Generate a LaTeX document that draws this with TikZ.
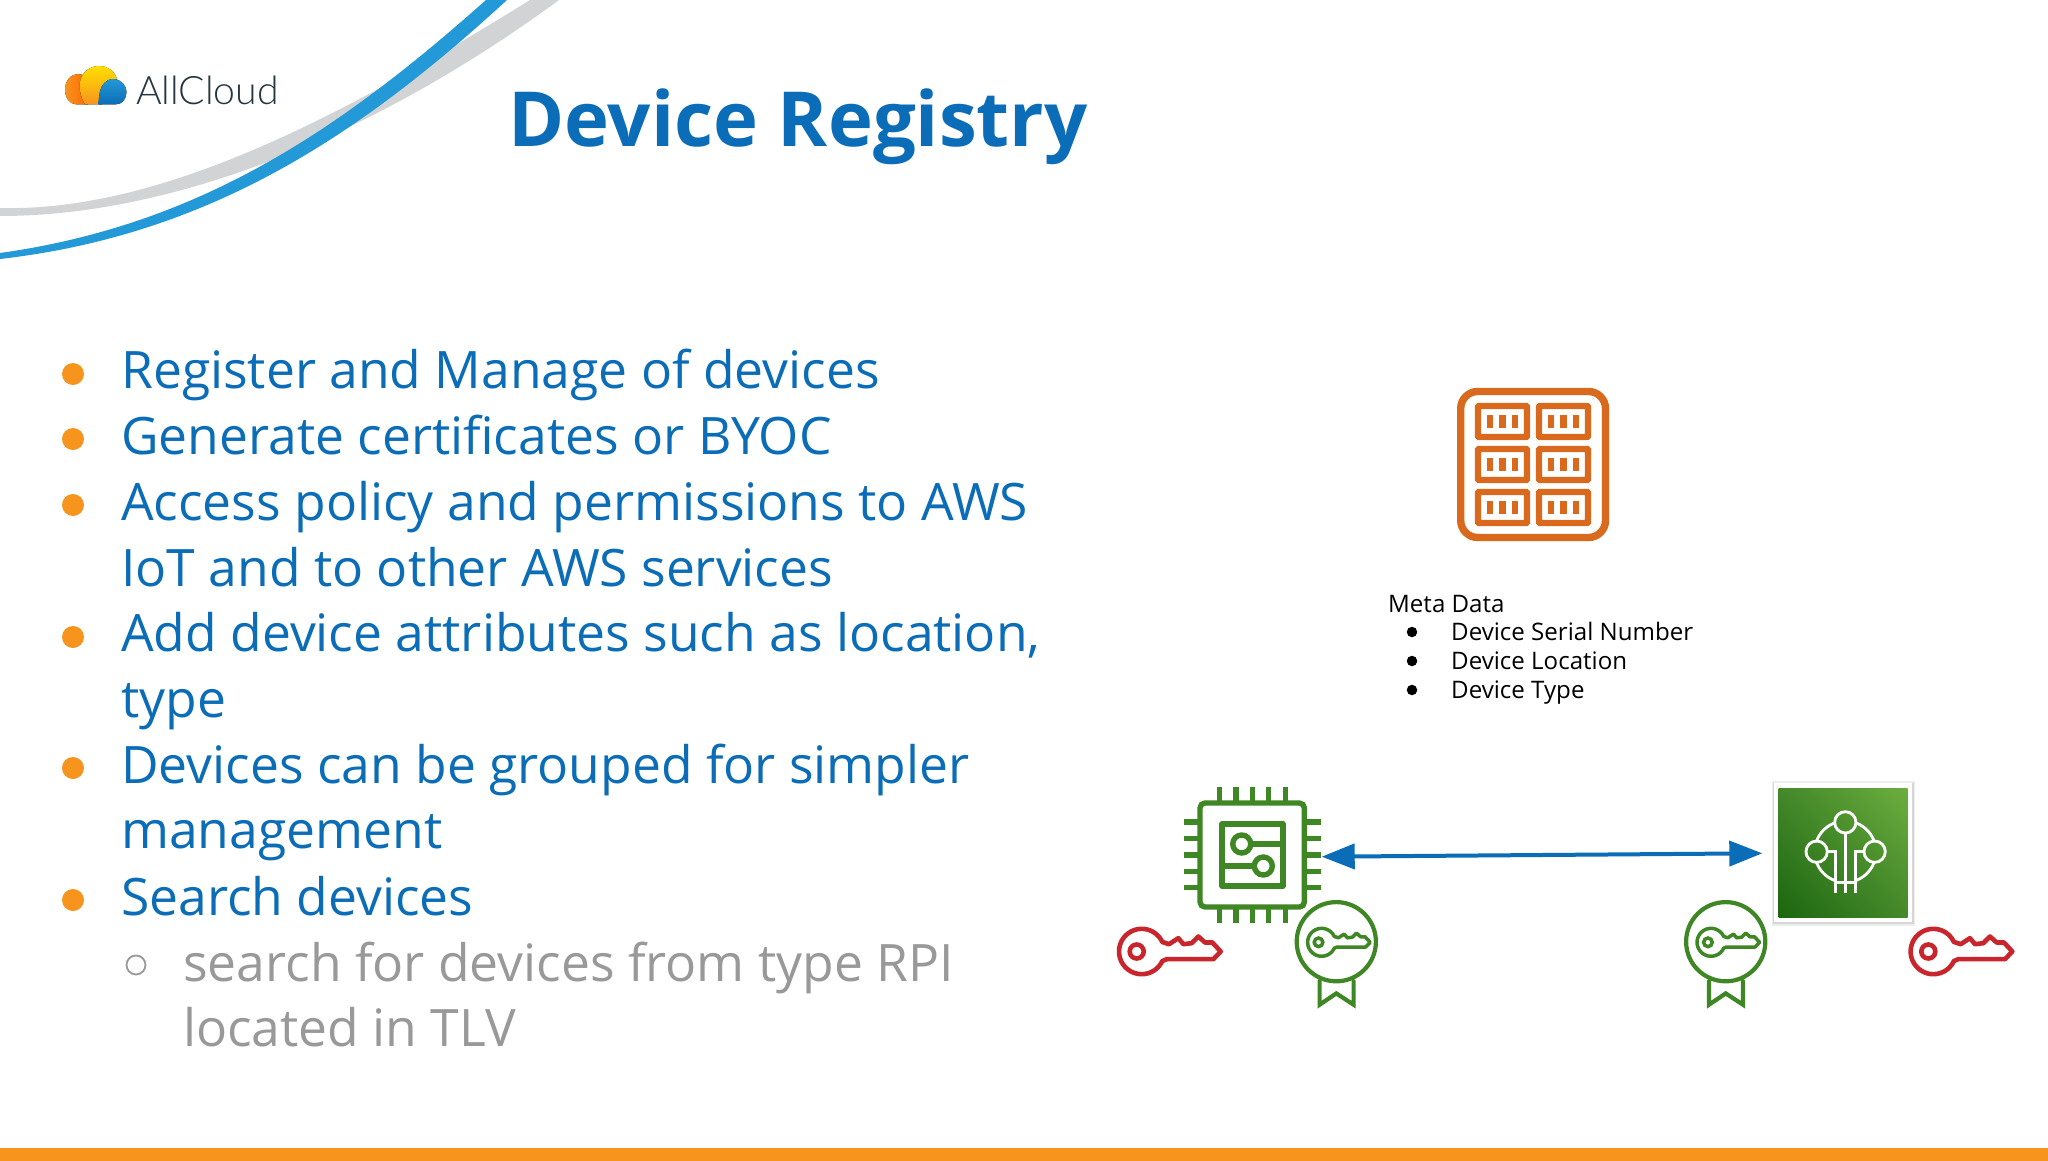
\documentclass[tikz,border=0pt]{standalone}
\usepackage{fontspec}
\setmainfont{Open Sans}
\newfontfamily\logofont{Lato Light}
\usetikzlibrary{arrows.meta,calc,shadings}
\definecolor{txtblue}{HTML}{0B6DB7}
\definecolor{txtgray}{HTML}{999999}
\definecolor{bulorange}{HTML}{F7941E}
\definecolor{ribblue}{HTML}{2499D8}
\definecolor{ribgray}{HTML}{D2D3D4}
\definecolor{iconorange}{HTML}{D9691C}
\definecolor{icongreen}{HTML}{3F8624}
\definecolor{keyred}{HTML}{C9252D}
\definecolor{logodark}{HTML}{26363E}
\definecolor{thingUR}{HTML}{6CAE3E}
\definecolor{thingLL}{HTML}{1B660F}
\definecolor{thingMid}{HTML}{44882A}
\tikzset{
  x=1pt,y=-1pt,
  bullet/.style={circle,fill=bulorange,draw=none,minimum size=22pt,inner sep=0pt},
  mainline/.style={anchor=base west,inner sep=0pt,text=txtblue,font=\fontsize{51.6}{60}\selectfont},
  subline/.style={anchor=base west,inner sep=0pt,text=txtgray,font=\fontsize{51.6}{60}\selectfont},
  metaline/.style={anchor=base west,inner sep=0pt,text=black,font=\fontsize{24.1}{29}\selectfont},
  metadot/.style={circle,fill=black,draw=none,minimum size=10.5pt,inner sep=0pt},
  chipline/.style={draw=icongreen,line width=5.4pt},
  thingline/.style={draw=white,line width=2.8pt},
  keyicon/.pic={
    \draw[line join=round]
      plot[domain=25:335,samples=50] ({68*cos(\x)},{68*sin(\x)*(-1)})
      -- (75,23) -- (215,23) -- (237,0) -- (212,-27) -- (190,-27) -- (170,-45) -- (150,-25) -- (125,-22) -- (110,-40) -- (82,-22) -- cycle;
    \draw (-15,0) circle[radius=21];
  },
  badgeicon/.pic={
    \draw[icongreen,line width=4.2pt] (0,0) circle[radius=39.6];
    \draw[icongreen,line width=4.2pt,line join=miter,line cap=round] (-16.7,39.5) -- (-16.7,63) -- (0,51.7) -- (17.3,63) -- (17.3,39.5);
    \pic[icongreen,line width=3.5pt,scale=0.205] at (-14.7,0.6) {keyicon};
  }
}
\newcommand{\orangecell}[2]{%
  \draw[iconorange,line width=6.4pt,rounded corners=1pt] (#1+3,#2+3) rectangle (#1+52,#2+34);
  \fill[iconorange] (#1+11.7,#2+12.3) rectangle +(6.4,12.7);
  \fill[iconorange] (#1+24.3,#2+12.3) rectangle +(6.4,12.7);
  \fill[iconorange] (#1+36.7,#2+12.3) rectangle +(6.4,12.7);
}
\begin{document}
\begin{tikzpicture}
\useasboundingbox (0,0) rectangle (2048,1161);
\fill[white] (0,0) rectangle (2048,1161);
% ribbons
\fill[ribgray] (0,208) .. controls (160,212) and (340,118) .. (530,0) -- (559,0) .. controls (375,135) and (175,216) .. (0,216) -- cycle;
\fill[ribblue] (0,253) .. controls (200,225) and (340,130) .. (486,0) -- (507,0) .. controls (360,135) and (210,235) .. (0,259) -- cycle;
% logo
\fill[left color=bulorange,right color=orange!80!red] (88,104.3) -- (76,104.3) .. controls (69,104.3) and (65,97) .. (65,89) .. controls (65,81) and (71,74) .. (78,74) .. controls (84,74) and (88,78) .. (90,84) -- cycle;
\fill[top color=yellow!75!orange,bottom color=bulorange] (85,104.3) .. controls (81,98) and (79,90) .. (80,82) .. controls (82,72) and (90,66) .. (99,66) .. controls (107,66) and (114,70) .. (117,79) -- (102,104.3) -- cycle;
\fill[top color=ribblue,bottom color=txtblue] (98.5,104.3) .. controls (99,98) and (99,92) .. (102,86) .. controls (105,81) and (110,78.5) .. (114,79) .. controls (122,80) and (126.5,86) .. (126.5,92) .. controls (126.5,99) and (122,104.3) .. (116,104.3) -- cycle;
\node[anchor=base west,inner sep=0pt,text=logodark,font=\logofont\fontsize{39.2}{46}\selectfont] (logo) at (136,105) {AllCloud};
% title
\node[anchor=base west,inner sep=0pt,text=txtblue,font=\bfseries\fontsize{76}{84}\selectfont] (title) at (508,147) {Device Registry};
% bullet text
\foreach \n/\y/\t in {a/388/{Register and Manage of devices},b/454/{Generate certificates or BYOC},c/520/{Access policy and permissions to AWS},d/586/{IoT and to other AWS services},e/651/{Add device attributes such as location,},f/717/{type},g/783/{Devices can be grouped for simpler},h/848/{management},i/915/{Search devices}}
  \node[mainline] (l\n) at (121,\y) {\t};
\node[subline] (lj) at (183,981) {search for devices from type RPI};
\node[subline] (lk) at (183,1046) {located in TLV};
\foreach \n/\y in {a/374,b/439,c/505,d/637,e/768,f/900}
  \node[bullet] (b\n) at (73,\y) {};
\node[circle,draw=txtgray,line width=1.8pt,minimum size=19pt,inner sep=0pt] (bsub) at (136,965) {};
% bottom bar
\fill[bulorange] (0,1148) rectangle (2048,1161);
% orange icon
\draw[iconorange,line width=7.4pt,rounded corners=17pt] (1460.7,391.5) rectangle (1605.5,537.5);
\foreach \cx in {1475,1536} \foreach \cy in {403,446,489} { \orangecell{\cx}{\cy} }
% meta data
\node[metaline] (m0) at (1388,612) {Meta Data};
\node[metaline] (m1) at (1451,640) {Device Serial Number};
\node[metaline] (m2) at (1451,669) {Device Location};
\node[metaline] (m3) at (1451,698) {Device Type};
\foreach \n/\y in {1/632,2/661,3/690}
  \node[metadot] (d\n) at (1412,\y) {};
% chip
\node[minimum width=136.7pt,minimum height=136.3pt,inner sep=0pt] (chip) at (1252.3,854.8) {};
\draw[chipline,rounded corners=5pt] (1200,803) rectangle (1304.4,907);
\foreach \p in {1219.3,1236,1252.3,1268.7,1285.3} {
  \draw[chipline] (\p,786.7) -- (\p,801);
  \draw[chipline] (\p,909) -- (\p,923);
}
\foreach \p in {822,838.7,855,871.3,887.7} {
  \draw[chipline] (1184,\p) -- (1198,\p);
  \draw[chipline] (1307,\p) -- (1320.7,\p);
}
\draw[chipline,line join=round] (1222,824) rectangle (1283,886);
\draw[chipline] (1241.7,844) circle[radius=9];
\draw[chipline] (1263.3,866) circle[radius=9];
\draw[chipline] (1250.7,844) -- (1283,844);
\draw[chipline] (1222,866) -- (1254.3,866);
% badges and keys
\pic[keyred,line width=4.6pt,scale=1/3] (key1) at (1141.7,951.5) {keyicon};
\pic[keyred,line width=4.6pt,scale=1/3] (key2) at (1933.3,951.5) {keyicon};
\pic (badge1) at (1336.3,941.7) {badgeicon};
\pic (badge2) at (1725.7,941.7) {badgeicon};
% thing
\fill[black!7] (1771.5,781) rectangle (1915,925.5);
\fill[black!16] (1773,782.5) rectangle (1913.5,924);
\fill[white] (1774,783.3) rectangle (1912.3,922.3);
\shade[upper right=thingUR,lower left=thingLL,upper left=thingMid,lower right=thingMid] (1778.7,788) rectangle (1907.7,917);
\node[minimum size=138.5pt,inner sep=0pt] (thing) at (1843.2,852.8) {};
\begin{scope}[shift={(1845.3,851.7)},scale=1/3]
\foreach \a/\b in {110/160,20/70,200/252,288/340}
  \draw[thingline] plot[domain=\a:\b,samples=20] ({92*cos(\x)},{-92*sin(\x)});
\draw[thingline] (0,-88) circle[radius=32];
\draw[thingline] (-86,0) circle[radius=32];
\draw[thingline] (88,0) circle[radius=32];
\draw[thingline] (0,-56) -- (0,123);
\draw[thingline] (-54,0) -- (-29,0) -- (-29,123);
\draw[thingline] (56,0) -- (30,0) -- (30,123);
\draw[thingline] (-29,92) -- (30,92);
\end{scope}
% arrow
\coordinate (arrowA) at (1321.7,856.7);
\coordinate (arrowB) at (1762.3,853.3);
\draw[txtblue,line width=4pt,{Triangle[length=33pt,width=25pt]}-{Triangle[length=33pt,width=25pt]}] (arrowA) -- (arrowB);
\end{tikzpicture}
\end{document}
